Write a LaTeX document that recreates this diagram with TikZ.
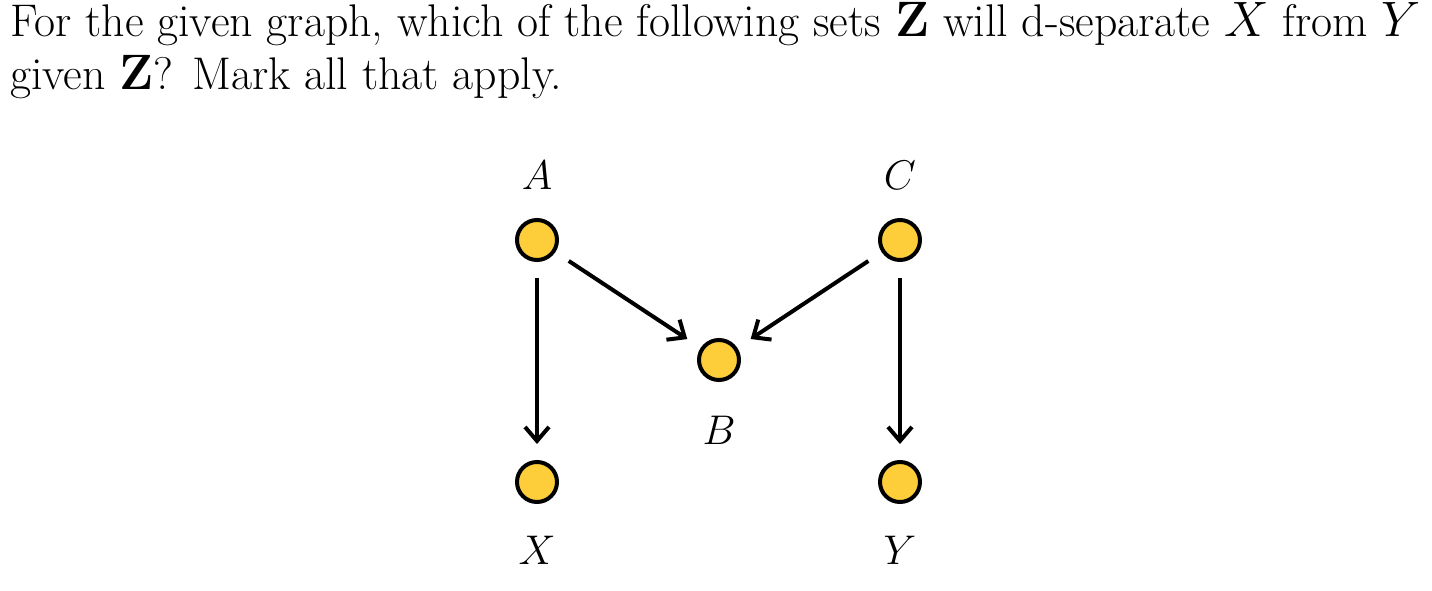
\documentclass[tikz,border=0pt]{standalone}
\usetikzlibrary{arrows.meta}
\begin{document}
\begin{tikzpicture}[x=0.5pt,y=-0.5pt,
  vtx/.style={circle,draw=black,line width=2pt,fill={rgb,255:red,253;green,206;blue,58},minimum size=20pt,inner sep=0pt},
  lab/.style={font=\fontsize{21}{24}\selectfont},
  txt/.style={font=\fontsize{22.9}{26}\selectfont,anchor=base west,inner sep=0pt},
  edge/.style={line width=2pt,-{Straight Barb[length=7pt,width=12pt,line width=2pt]},shorten >=8pt,shorten <=8pt}]
\useasboundingbox (0,0) rectangle (1432,590);
\node[txt] (t1) at (10,36) {For the given graph, which of the following sets $\mathbf{Z}$ will d-separate $X$ from $Y$};
\node[txt] (t2) at (10,89) {given $\mathbf{Z}$? Mark all that apply.};
\node[vtx] (A) at (537,240) {};
\node[vtx] (C) at (900,240) {};
\node[vtx] (B) at (719,360) {};
\node[vtx] (X) at (537,482) {};
\node[vtx] (Y) at (900,482) {};
\node[lab] (la) at (537,175) {$A$};
\node[lab] (lc) at (900,175) {$C$};
\node[lab] (lb) at (719,430) {$B$};
\node[lab] (lx) at (537,550) {$X$};
\node[lab] (ly) at (900,550) {$Y$};
\draw[edge] (A) -- (X);
\draw[edge] (A) -- (B);
\draw[edge] (C) -- (B);
\draw[edge] (C) -- (Y);
\end{tikzpicture}
\end{document}
